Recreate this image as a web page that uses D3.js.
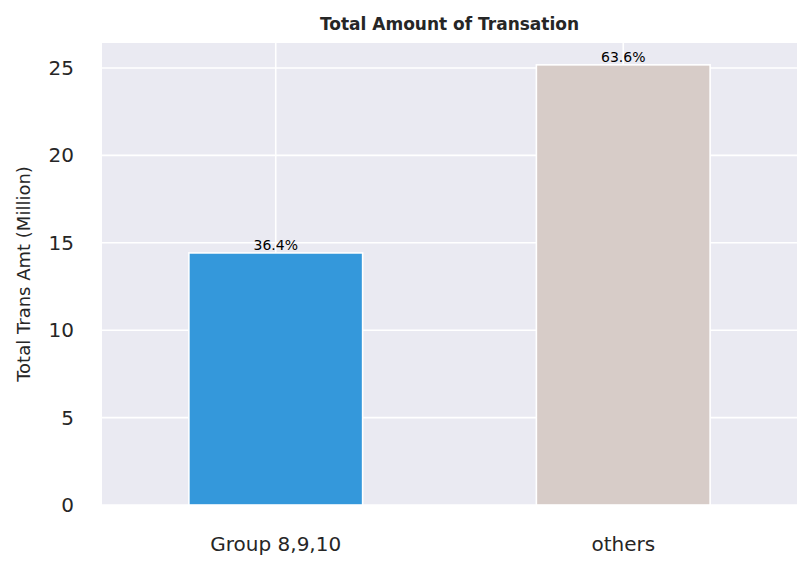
<!DOCTYPE html>
<html><head><meta charset="utf-8">
<script src="https://cdn.jsdelivr.net/npm/d3@7"></script>
<style>body{margin:0;background:#fff}</style></head>
<body><script>
const categories = ["Group 8,9,10", "others"];
const values = [14.42, 25.18];
const labels = ["36.4%", "63.6%"];
const colors = ["#3498db", "#d7ccc8"];
const yTicks = [0, 5, 10, 15, 20, 25];

const W = 812, H = 570, m = {l: 102, r: 15, t: 43, b: 65};
const svg = d3.select("body").append("svg").attr("width", W).attr("height", H)
  .style("font-family", "DejaVu Sans");
const x = d3.scaleLinear().domain([-0.5, 1.5]).range([m.l, W - m.r]);
const y = d3.scaleLinear().domain([0, 26.43]).range([H - m.b, m.t]);

svg.append("rect").attr("x", m.l).attr("y", m.t)
  .attr("width", W - m.r - m.l).attr("height", H - m.b - m.t).attr("fill", "#eaeaf2");
svg.selectAll(".hg").data(yTicks).enter().append("line")
  .attr("x1", m.l).attr("x2", W - m.r).attr("y1", d => y(d)).attr("y2", d => y(d))
  .attr("stroke", "#fff").attr("stroke-width", 1.6);
svg.selectAll(".vg").data(categories).enter().append("line")
  .attr("x1", (d, i) => x(i)).attr("x2", (d, i) => x(i))
  .attr("y1", m.t).attr("y2", H - m.b).attr("stroke", "#fff").attr("stroke-width", 1.6);

const bw = x(0.5) - x(0);
svg.selectAll(".bar").data(values).enter().append("rect")
  .attr("x", (d, i) => x(i) - bw / 2).attr("width", bw)
  .attr("y", d => y(d)).attr("height", d => y(0) - y(d))
  .attr("fill", (d, i) => colors[i]).attr("stroke", "#fff").attr("stroke-width", 1.6);

svg.selectAll(".lbl").data(values).enter().append("text")
  .attr("x", (d, i) => x(i)).attr("y", d => y(d) - 3)
  .attr("text-anchor", "middle").attr("font-size", 14).attr("fill", "#000")
  .text((d, i) => labels[i]);

svg.selectAll(".yt").data(yTicks).enter().append("text")
  .attr("x", m.l - 28).attr("y", d => y(d)).attr("dy", "0.35em")
  .attr("text-anchor", "end").attr("font-size", 20).attr("fill", "#262626").text(d => d);
svg.selectAll(".xt").data(categories).enter().append("text")
  .attr("x", (d, i) => x(i)).attr("y", H - m.b + 46)
  .attr("text-anchor", "middle").attr("font-size", 20).attr("fill", "#262626").text(d => d);

svg.append("text").attr("transform", `translate(30,${(m.t + H - m.b) / 2}) rotate(-90)`)
  .attr("text-anchor", "middle").attr("font-size", 18).attr("fill", "#262626")
  .text("Total Trans Amt (Million)");
svg.append("text").attr("x", (m.l + W - m.r) / 2).attr("y", 30)
  .attr("text-anchor", "middle").attr("font-size", 17).attr("font-weight", "bold")
  .attr("fill", "#262626").text("Total Amount of Transation");
</script></body></html>
